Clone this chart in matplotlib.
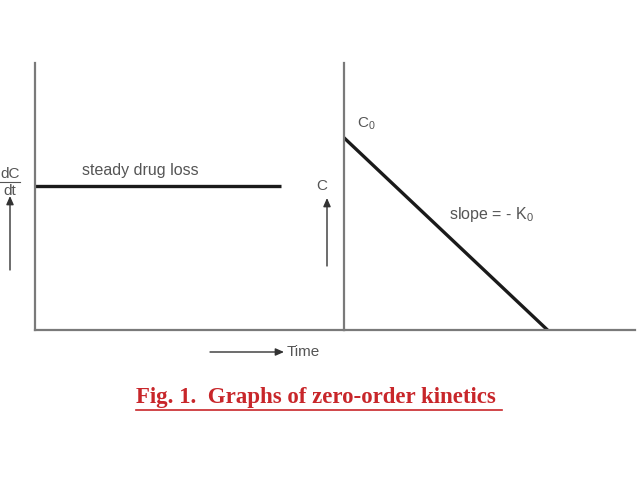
import matplotlib
matplotlib.use("Agg")
import matplotlib.pyplot as plt
from matplotlib.lines import Line2D

# zero-order kinetics: constant rate, linearly falling concentration
rate_time = [0, 1]
rate_value = [5.4, 5.4]

conc_time = [0, 10]
conc_value = [7.2, 0]

W, H = 638, 478
fig = plt.figure(figsize=(W / 100, H / 100), dpi=100)

def px(x0, y0, x1, y1):
    # left, bottom, width, height in figure fractions from pixel box
    return [x0 / W, 1 - y1 / H, (x1 - x0) / W, (y1 - y0) / H]

axis_col = "#7a7a7a"
text_col = "#555555"

ax1 = fig.add_axes(px(35, 63, 344, 330))
ax2 = fig.add_axes(px(344, 63, 635, 330))

for ax in (ax1, ax2):
    for s in ("top", "right"):
        ax.spines[s].set_visible(False)
    ax.spines["left"].set_color(axis_col)
    ax.spines["bottom"].set_color(axis_col)
    ax.spines["left"].set_linewidth(1.6)
    ax.spines["bottom"].set_linewidth(1.6)
    ax.set_xticks([])
    ax.set_yticks([])
    ax.patch.set_alpha(0)

ax1.plot(rate_time, rate_value, color="#1a1a1a", lw=2.4, solid_capstyle="butt")
ax1.set_xlim(0, 1.256)
ax1.set_ylim(0, 10)

ax2.plot(conc_time, conc_value, color="#1a1a1a", lw=2.4)
ax2.set_xlim(0, 14.3)
ax2.set_ylim(0, 10)

font = ["Liberation Sans", "DejaVu Sans"]

def ftext(x, y, s, **kw):
    fig.text(x / W, 1 - y / H, s, family=font, color=text_col, **kw)

ftext(82, 171, "steady drug loss", fontsize=11.5, va="center")
ftext(449, 215, "slope = - K$_\\mathregular{0}$", fontsize=11.5, va="center")
ftext(357, 124, "C$_\\mathregular{0}$", fontsize=11, va="center")
ftext(322, 186, "C", fontsize=11, va="center", ha="center")
ftext(287, 352, "Time", fontsize=11, va="center")
ftext(10, 174, "dC", fontsize=11, va="center", ha="center")
ftext(10, 191, "dt", fontsize=11, va="center", ha="center")
fig.add_artist(Line2D([0 / W, 20 / W], [1 - 182.5 / H, 1 - 182.5 / H], color=text_col, lw=0.8))

def arrow(x0, y0, x1, y1):
    fig.add_artist(matplotlib.patches.FancyArrowPatch(
        (x0 / W, 1 - y0 / H), (x1 / W, 1 - y1 / H), transform=fig.transFigure,
        arrowstyle="-|>,head_length=5,head_width=2.2", mutation_scale=1,
        color="#333333", lw=1.0, shrinkA=0, shrinkB=0))

arrow(10, 270, 10, 196)
arrow(327, 266, 327, 198)
arrow(210, 352, 284, 352)

cap = fig.text(0.5, 1 - 398 / H, "Fig. 1.  Graphs of zero-order kinetics ",
               family=["Liberation Serif", "DejaVu Serif"], fontweight="bold",
               fontsize=16.5, color="#c8262a", ha="center", va="center")
fig.canvas.draw()
bb = cap.get_window_extent()
uy = bb.y0 - 1
fig.add_artist(Line2D([bb.x0 / W, bb.x1 / W], [uy / H, uy / H],
                      color="#c8262a", lw=1.2))

fig.savefig("out.png", dpi=100, facecolor="white")
